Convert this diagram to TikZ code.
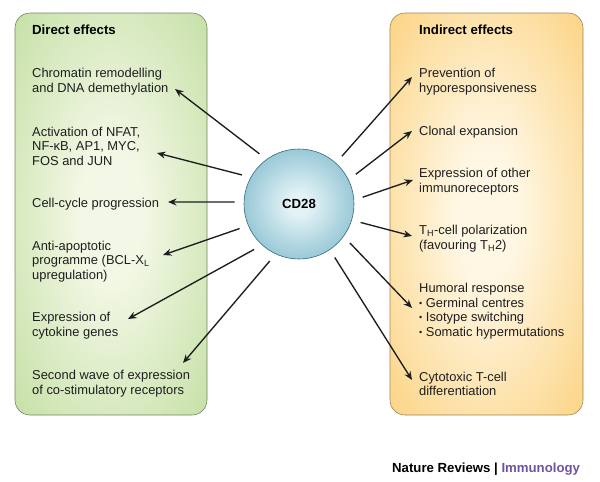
\documentclass[tikz,border=0pt]{standalone}
\usepackage{fontspec}
\setmainfont{Liberation Sans}
\usetikzlibrary{arrows.meta,positioning,calc}
\definecolor{inkDark}{RGB}{30, 30, 30}
\definecolor{greenIn}{RGB}{243, 248, 230}
\definecolor{greenOut}{RGB}{182, 216, 144}
\definecolor{greenEdge}{RGB}{112, 132, 98}
\definecolor{amberIn}{RGB}{255, 247, 228}
\definecolor{amberOut}{RGB}{250, 200, 100}
\definecolor{amberEdge}{RGB}{160, 132, 82}
\definecolor{tealIn}{RGB}{226, 242, 246}
\definecolor{tealOut}{RGB}{78, 158, 182}
\definecolor{tealEdge}{RGB}{52, 106, 126}
\definecolor{immunoPurple}{RGB}{112, 82, 160}
\pgfdeclareradialshading{greenglow}{\pgfpoint{0bp}{0bp}}{color(0bp)=(greenIn); color(8bp)=(greenIn); color(45bp)=(greenOut); color(50bp)=(greenOut)}
\pgfdeclareradialshading{amberglow}{\pgfpoint{0bp}{0bp}}{color(0bp)=(amberIn); color(8bp)=(amberIn); color(45bp)=(amberOut); color(50bp)=(amberOut)}
\pgfdeclareradialshading{tealglow}{\pgfpoint{0bp}{0bp}}{color(0bp)=(tealIn); color(5bp)=(tealIn); color(46bp)=(tealOut); color(50bp)=(tealOut)}
\newcommand{\bodysize}{\fontsize{12.9pt}{14.5pt}\selectfont}
\newcommand{\headsize}{\fontsize{13.2pt}{15pt}\selectfont}
\newcommand{\smallbullet}{\raisebox{0.15ex}{\fontsize{9pt}{9pt}\selectfont\textbullet}}
\tikzset{
    panel/.style={rounded corners=15pt, line width=0.6pt, inner sep=0pt},
    effect/.style={anchor=west, align=left, inner sep=0pt, font=\bodysize, text=inkDark},
    panelhead/.style={anchor=base west, inner sep=0pt, font=\headsize\bfseries, text=black},
    effectarrow/.style={draw=inkDark, line width=1.35pt, -{Stealth[length=8.5pt,width=7pt]}, shorten <=9pt}
}

\begin{document}
\begin{tikzpicture}[x=1pt, y=-1pt]
    \useasboundingbox (0,0) rectangle (600,482);

    % effect panels
    \node[panel, shading=greenglow, draw=greenEdge, minimum width=192pt, minimum height=402pt] (directpanel) at (111,214) {};
    \node[panel, shading=amberglow, draw=amberEdge, minimum width=193pt, minimum height=402pt] (indirectpanel) at (486.5,214) {};

    % receptor
    \node[circle, shading=tealglow, draw=tealEdge, line width=0.6pt, minimum size=110pt, inner sep=0pt,
          font=\headsize\bfseries] (cd28) at (299,204) {CD28};

    % direct effects
    \node[panelhead] (directhead) at (32,34) {Direct effects};
    \node[effect] (chromatin) at (32,81.7) {Chromatin remodelling\\and DNA demethylation};
    \node[effect] (activation) at (32,146.2) {Activation of NFAT,\\NF-κB, AP1, MYC,\\FOS and JUN};
    \node[effect] (cellcycle) at (32,203.7) {Cell-cycle progression};
    \node[effect] (antiapop) at (32,261.2) {Anti-apoptotic\\programme (BCL-X\textsubscript{L}\\upregulation)};
    \node[effect] (cytokine) at (32,325.7) {Expression of\\cytokine genes};
    \node[effect] (secondwave) at (32,383.7) {Second wave of expression\\of co-stimulatory receptors};

    % indirect effects
    \node[panelhead] (indirecthead) at (419,34) {Indirect effects};
    \node[effect] (prevention) at (419,81.7) {Prevention of\\hyporesponsiveness};
    \node[effect] (clonal) at (419,131.7) {Clonal expansion};
    \node[effect] (immuno) at (419,181.7) {Expression of other\\immunoreceptors};
    \node[effect] (polarize) at (419,238.7) {T\textsubscript{H}-cell polarization\\(favouring T\textsubscript{H}2)};
    \node[effect] (humoral) at (419,311.2) {Humoral response\\\smallbullet\ Germinal centres\\\smallbullet\ Isotype switching\\\smallbullet\ Somatic hypermutations};
    \node[effect] (cytotoxic) at (419,383.7) {Cytotoxic T-cell\\differentiation};

    % arrow tips
    \coordinate (chromatin-tip) at (175,89);
    \coordinate (activation-tip) at (157,153);
    \coordinate (cellcycle-tip) at (168,202);
    \coordinate (antiapop-tip) at (163,255);
    \coordinate (cytokine-tip) at (128,319);
    \coordinate (secondwave-tip) at (183,363);
    \coordinate (prevention-tip) at (412,77);
    \coordinate (clonal-tip) at (412,131);
    \coordinate (immuno-tip) at (413,180);
    \coordinate (polarize-tip) at (412,236);
    \coordinate (humoral-tip) at (412,308);
    \coordinate (cytotoxic-tip) at (412,380);

    \foreach \ang/\target in {126/chromatin, 151/activation, 178/cellcycle, 203/antiapop, 228/cytokine, 245/secondwave,
                              48/prevention, 26/clonal, 4/immuno, -17/polarize, -36/humoral, -56/cytotoxic}
        \draw[effectarrow] (cd28.\ang) -- (\target-tip);

    \node[panelhead] (credit) at (392,472) {Nature Reviews | {\color{immunoPurple}Immunology}};
\end{tikzpicture}
\end{document}
